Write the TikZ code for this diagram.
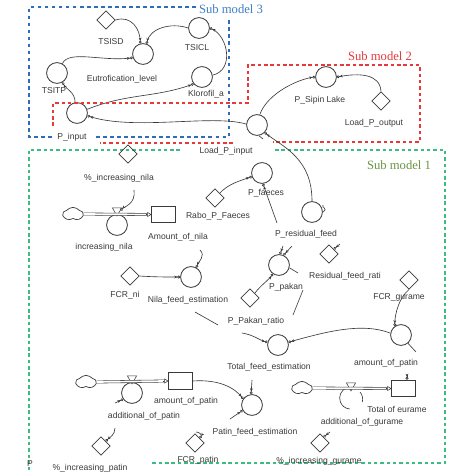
\documentclass[tikz,border=0pt]{standalone}
\usepackage{fontspec}
\setmainfont{Liberation Sans}
\newfontfamily\subfont{Liberation Serif}
\usetikzlibrary{shapes.geometric,shapes.symbols,arrows.meta,calc}

\definecolor{ink}{HTML}{3A3A3A}
\definecolor{subblue}{HTML}{3F7FC4}
\definecolor{boxblue}{HTML}{2F6DB8}
\definecolor{subred}{HTML}{E5393A}
\definecolor{subgreen}{HTML}{3DBB85}
\definecolor{sublabgreen}{HTML}{6B9444}

\tikzset{
  aux/.style={circle, draw=ink, line width=0.6pt, minimum size=0.52cm, inner sep=0pt},
  param/.style={diamond, draw=ink, line width=0.5pt, minimum size=0.46cm, inner sep=0pt},
  stock/.style={rectangle, draw=ink, line width=0.6pt, minimum width=0.58cm, minimum height=0.42cm, inner sep=0pt},
  src/.style={cloud, cloud puffs=5, cloud puff arc=100, aspect=1.6, draw=ink, line width=0.5pt,
    minimum width=0.5cm, minimum height=0.33cm, inner sep=0pt},
  valve/.style={regular polygon, regular polygon sides=3, shape border rotate=180, draw=ink,
    line width=0.4pt, minimum size=0.27cm, inner sep=0pt},
  lab/.style={font=\fontsize{6.1}{7}\selectfont, text=ink, inner sep=0pt},
  sublab/.style={font=\subfont\fontsize{9}{10}\selectfont, inner sep=0pt},
  conn/.style={draw=ink, line width=0.45pt,
    -{Stealth[length=2.2pt,width=2pt] Circle[open,length=2pt,width=2pt]}},
  stub/.style={draw=ink, line width=0.45pt},
  pipe/.style={draw=ink, line width=0.4pt, double distance=1.2pt},
  pipetip/.style={draw=ink, line width=0.4pt, -{Triangle[open,length=3pt,width=3.6pt]}},
  box3/.style={draw=boxblue, line width=0.75pt, dash pattern=on 2.5pt off 2.5pt},
  box2/.style={draw=subred, line width=0.8pt, dash pattern=on 2.5pt off 2pt},
  box1/.style={draw=subgreen, line width=0.8pt, dash pattern=on 2.5pt off 2pt}
}

\begin{document}
\begin{tikzpicture}[x=0.025cm,y=-0.025cm]

\fill[white] (0,0) rectangle (474,474);
\useasboundingbox (0,0) rectangle (474,474);

% Sub model 3
\draw[box3] (196,7) -- (29,7) -- (29,137) -- (53,137);
\draw[box3] (96,137) -- (229,137) -- (229,20);
\node[sublab, text=subblue] (sub3) at (231,9) {Sub model 3};

\node[param] (tsisd) at (106,20) {};
\node[lab] (tsisd-l) at (111,42) {TSISD};
\node[aux] (eutro) at (143,54) {};
\node[lab] (eutro-l) at (122,79) {Eutrofication\_level};
\node[aux] (tsicl) at (199,28) {};
\node[lab] (tsicl-l) at (197,48) {TSICL};
\node[aux] (tsitp) at (57,73) {};
\node[lab] (tsitp-l) at (54,91) {TSITP};
\node[aux] (klorofil) at (202,77) {};
\node[lab] (klorofil-l) at (206,94) {Klorofil\_a};
\node[aux] (pinput) at (77,113) {};
\node[lab] (pinput-l) at (72,137) {P\_input};

\draw[conn] (tsisd.east) .. controls +(16,-5) and +(0,-14) .. (eutro.105);
\draw[conn] (tsicl.west) .. controls +(-18,-6) and +(3,-15) .. (eutro.70);
\draw[conn] (tsitp.60) .. controls +(6,-14) and +(-30,4) .. (eutro.200);
\draw[conn] (pinput.100) .. controls +(0,-10) and +(4,7) .. (tsitp.-60);
\draw[conn] (klorofil.10) .. controls +(22,-5) and +(18,8) .. (tsicl.east);
\draw[conn] (pinput.20) .. controls +(40,-16) and +(-40,14) .. (klorofil.220);

% Sub model 2
\draw[box2] (53,126) -- (53,103) -- (248,103) -- (248,65) -- (420,65) -- (420,142) -- (273,142);
\draw[box2] (233,143) -- (100,143);
\node[sublab, text=subred] (sub2) at (380,56) {Sub model 2};

\node[aux] (psipin) at (326,77) {};
\node[lab] (psipin-l) at (320,100) {P\_Sipin Lake};
\node[param] (lpout) at (381,101) {};
\node[lab] (lpout-l) at (374,123) {Load\_P\_output};
\node[aux] (load) at (257,125) {};
\node[lab] (load-l) at (226,151) {Load\_P\_input};

\draw[conn] (load.175) .. controls (212,114) and (135,131) .. (pinput.-15);
\draw[conn] (load.75) .. controls +(8,-22) and +(-16,2) .. (psipin.west);
\draw[conn] (lpout.north) .. controls +(-1,-18) and +(22,-4) .. (psipin.east);
\coordinate (load-c) at (263,139);
\draw[stub] (load.-80) -- (load-c);

% Sub model 1
\draw[box1] (180,150) -- (29,150) -- (29,470);
\draw[box1] (275,150) -- (445,150) -- (445,463) -- (150,463);
\node[sublab, text=sublabgreen] (sub1) at (399,165) {Sub model 1};
\node[lab] (corner-l) at (30,464) {P};

% nila
\node[param] (pincnila) at (128,154) {};
\node[lab] (pincnila-l) at (119,178) {\%\_increasing\_nila};
\node[src] (cloudnila) at (73,214) {};
\node[stock] (snila) at (163.5,214.5) {};
\node[lab] (snila-l) at (178,237) {Amount\_of\_nila};
\node[aux] (fnila) at (117,225) {};
\node[valve] (vnila) at (117,210.5) {};
\node[lab] (fnila-l) at (104,247) {increasing\_nila};
\draw[pipe] (cloudnila.east) -- ($(snila.west)+(-4,0)$);
\draw[pipetip] ($(snila.west)+(-5,0)$) -- (snila.west);

\coordinate (pincnila-c) at (134,190);
\draw[conn] (pincnila-c) .. controls +(2,14) and +(4,-4) .. (vnila.east);

\node[param] (fcrni) at (130,276) {};
\node[lab] (fcrni-l) at (125,295) {FCR\_ni};
\node[aux] (nilafeed) at (191,277) {};
\node[lab] (nilafeed-l) at (188,300) {Nila\_feed\_estimation};
\coordinate (snila-c) at (200,250);
\draw[conn] (snila-c) .. controls +(6,6) and +(2,-6) .. (nilafeed.60);
\draw[conn] (fcrni.east) .. controls +(15,1) and +(-15,0) .. (nilafeed.west);

% faeces
\node[aux] (pfaeces) at (262,173) {};
\node[lab] (pfaeces-l) at (266,193) {P\_faeces};
\node[param] (rabo) at (215,198) {};
\node[lab] (rabo-l) at (218,216) {Rabo\_P\_Faeces};
\draw[conn] (rabo.45) .. controls +(8,-9) and +(-12,4) .. (pfaeces.200);
\coordinate (pfaeces-c) at (277,223);
\draw[conn] (pfaeces-c) -- (pfaeces.-85);

\node[aux] (presid) at (312,212) {};
\node[lab] (presid-l) at (306,234) {P\_residual\_feed};
\draw[conn] (presid.north) .. controls +(0,-42) and +(20,15) .. (load.-45);
\coordinate (presid-c) at (323,205);
\draw[stub] (presid.east) .. controls +(6,-4) and +(-2,3) .. (presid-c);
\node[param] (resid) at (329,254) {};
\node[lab] (resid-l) at (345,276) {Residual\_feed\_rati};
\coordinate (resid-c) at (340,244);
\draw[conn] (resid-c) -- (resid.45);

% pakan
\node[aux] (ppakan) at (279,265) {};
\node[lab] (ppakan-l) at (286,287) {P\_pakan};
\node[param] (pratio) at (250,298) {};
\node[lab] (pratio-l) at (256,321) {P\_Pakan\_ratio};
\draw[conn] (pratio.45) .. controls +(6,-8) and +(-4,6) .. (ppakan.235);
\coordinate (ppakan-c1) at (283,246);
\coordinate (ppakan-c2) at (292,246);
\coordinate (ppakan-c3) at (298,273);
\draw[conn] (ppakan-c1) -- (ppakan.85);
\draw[conn] (ppakan-c2) -- (ppakan.65);
\draw[stub] (ppakan.-15) -- (ppakan-c3);
\coordinate (ppakan-d1) at (303,290);
\coordinate (ppakan-d2) at (293,315);
\draw[stub] (ppakan-d1) -- (ppakan-d2);
\coordinate (nilafeed-d1) at (195,312);
\coordinate (nilafeed-d2) at (218,325);
\draw[stub] (nilafeed-d1) -- (nilafeed-d2);

% total feed
\node[aux] (tfeed) at (278,345) {};
\node[lab] (tfeed-l) at (269,367) {Total\_feed\_estimation};
\coordinate (tfeed-c) at (242,333);
\draw[conn] (tfeed-c) .. controls +(12,2) and +(-8,-2) .. (tfeed.165);
\node[param] (fcrg) at (409,280) {};
\node[lab] (fcrg-l) at (399,297) {FCR\_gurame};
\node[aux] (apatin) at (401,335) {};
\node[lab] (apatin-l) at (386,363) {amount\_of\_patin};
\draw[conn] (fcrg.south) .. controls +(-10,8) and +(0,-12) .. (apatin.125);
\draw[conn] (apatin.170) .. controls (362,322) and (325,332) .. (tfeed.15);
\coordinate (apatin-c) at (416,352);
\draw[stub] (apatin.-50) -- (apatin-c);

% patin
\node[src] (cloudpatin) at (86,382) {};
\node[stock] (spatin) at (180.5,381) {};
\node[lab] (spatin-l) at (186,401) {amount\_of\_patin};
\node[aux] (fpatin) at (132,393) {};
\node[valve] (vpatin) at (132,378.5) {};
\node[lab] (fpatin-l) at (144,416) {additional\_of\_patin};
\draw[pipe] (cloudpatin.east) -- ($(spatin.west)+(-4,0)$);
\draw[pipetip] ($(spatin.west)+(-5,0)$) -- (spatin.west);
\coordinate (fpatin-c) at (115,403);
\draw[conn] (fpatin-c) -- (fpatin.215);

\node[aux] (pfeed) at (252,405) {};
\node[lab] (pfeed-l) at (255,432) {Patin\_feed\_estimation};
\draw[conn] (spatin.east) .. controls +(28,-2) and +(-8,-10) .. (pfeed.145);
\coordinate (pfeed-c1) at (252,380);
\coordinate (pfeed-c2) at (230,419);
\draw[conn] (pfeed-c1) -- (pfeed.95);
\draw[conn] (pfeed-c2) -- (pfeed.210);

\node[param] (pincp) at (101,446) {};
\node[lab] (pincp-l) at (90,468) {\%\_increasing\_patin};
\coordinate (pincp-c) at (115,428);
\draw[conn] (pincp-c) .. controls +(0,7) and +(4,-4) .. (pincp.45);
\node[param] (fcrp) at (195,443) {};
\node[lab] (fcrp-l) at (198,460) {FCR\_patin};
\coordinate (fcrp-c) at (196,432);
\draw[conn] (fcrp-c) .. controls +(4,0) and +(2,-3) .. (fcrp.45);

% gurame
\node[src] (cloudgur) at (302,388) {};
\node[stock] (sgur) at (403.5,388.5) {};
\node[lab] (sgur-l) at (397,409) {Total of eurame};
\node[inner sep=0pt, minimum size=0.55cm] (fgur) at (351,399) {};
\draw[stub] (fgur.110) arc[start angle=110, end angle=265, radius=0.275cm];
\draw[stub] (fgur.-15) arc[start angle=-15, end angle=40, radius=0.275cm];
\node[valve] (vgur) at (351,385.5) {};
\node[lab] (fgur-l) at (362,422) {additional\_of\_gurame};
\draw[pipe] (cloudgur.east) -- ($(sgur.west)+(-4,0)$);
\draw[pipetip] ($(sgur.west)+(-5,0)$) -- (sgur.west);
\coordinate (sgur-c) at (407,375);
\draw[conn] (sgur-c) -- (sgur.north -| sgur-c);

\node[param] (pincg) at (320,443) {};
\node[lab] (pincg-l) at (319,461) {\%\_increasing\_gurame};
\coordinate (pincg-c) at (330,432);
\draw[conn] (pincg-c) -- (pincg.60);

\end{tikzpicture}
\end{document}
